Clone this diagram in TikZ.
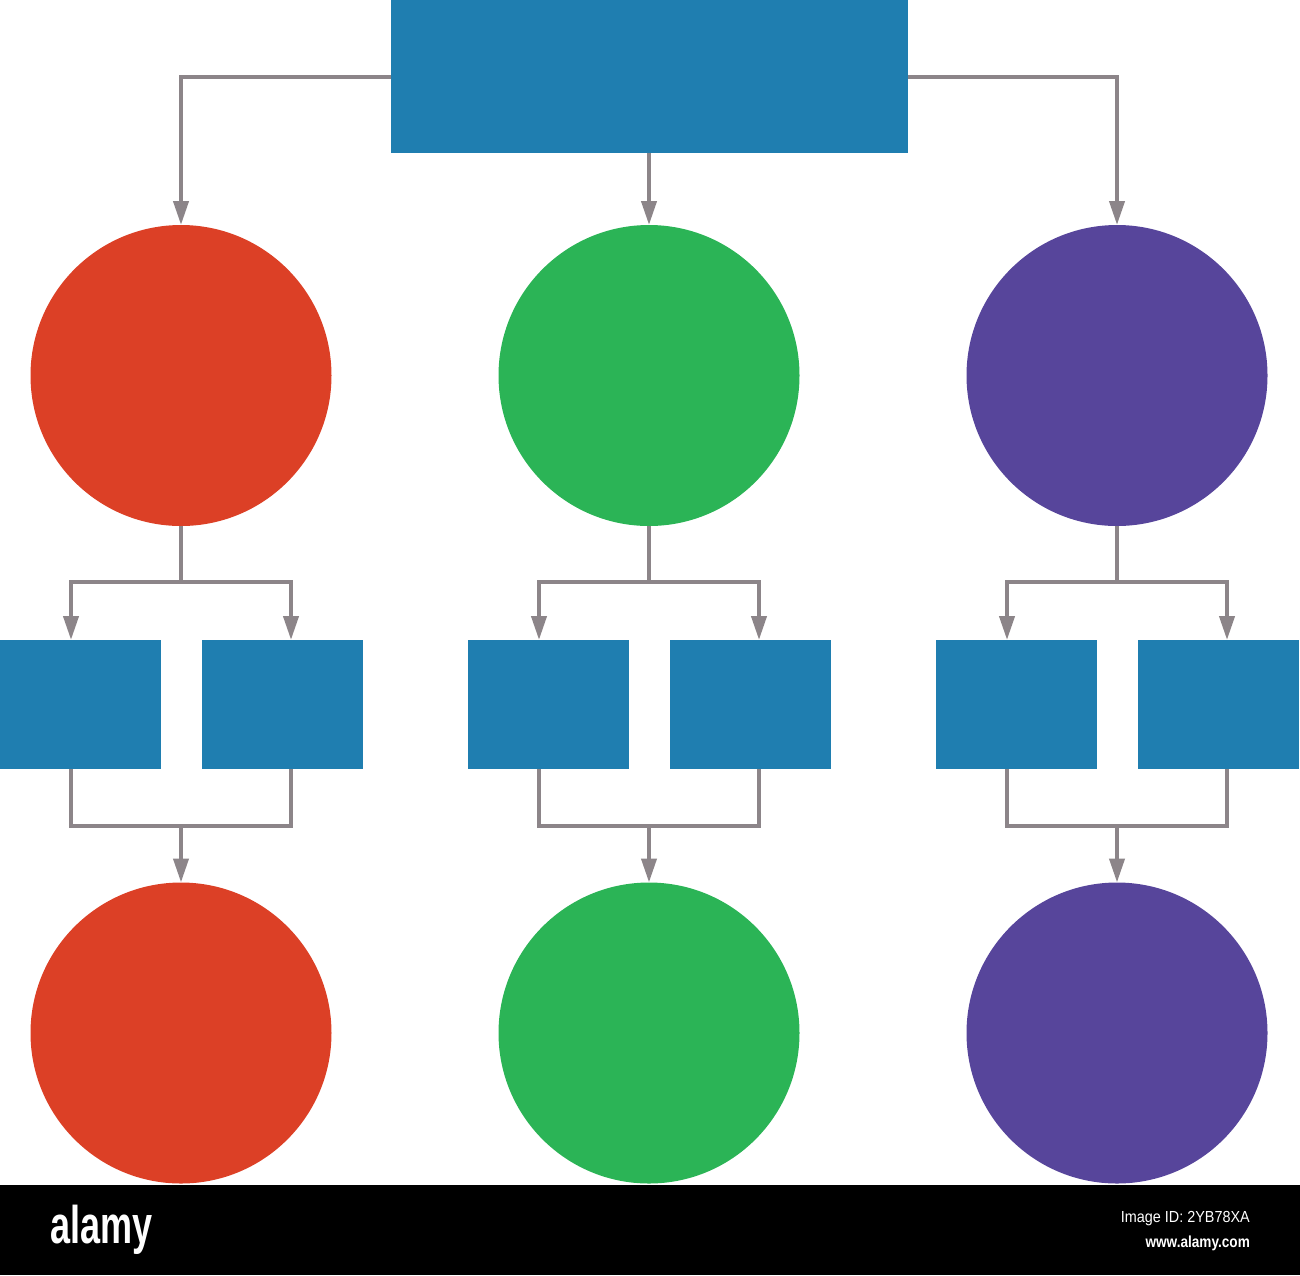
\documentclass[tikz,border=0pt]{standalone}
\usepackage{fontspec}
\setmainfont{Liberation Sans}
\usetikzlibrary{arrows.meta}
\definecolor{boxblue}{HTML}{1F7EB0}
\definecolor{discred}{HTML}{DC4026}
\definecolor{discgreen}{HTML}{2BB456}
\definecolor{discpurple}{HTML}{57459B}
\definecolor{linegray}{HTML}{8C8589}
\begin{document}
\begin{tikzpicture}[x=1pt,y=-1pt,
  conn/.style={draw=linegray, line width=4pt, -{Triangle[length=24pt,width=15pt]}},
  plainline/.style={draw=linegray, line width=4pt},
  bigbox/.style={rectangle, fill=boxblue, inner sep=0pt, outer sep=0pt, minimum width=517pt, minimum height=153pt},
  smallbox/.style={rectangle, fill=boxblue, inner sep=0pt, outer sep=0pt, minimum width=161pt, minimum height=129pt},
  disc/.style={circle, inner sep=0pt, outer sep=0pt, minimum size=301pt}]
\useasboundingbox (0,0) rectangle (1300,1275);
\node[bigbox] (top) at (649.5,76.5) {};
\foreach \cx/\i/\col in {181/1/discred, 649/2/discgreen, 1117/3/discpurple}{
  \node[disc, fill=\col] (u\i) at (\cx,375.5) {};
  \node[disc, fill=\col] (d\i) at (\cx,1033) {};
  \node[smallbox] (l\i) at (\cx-101,704.5) {};
  \node[smallbox] (r\i) at (\cx+101,704.5) {};
  \coordinate (s\i) at (\cx,582);
  \coordinate (m\i) at (\cx,826);
  \draw[plainline] (u\i.south) -- (s\i);
  \draw[conn] (s\i) -| ([xshift=-9pt]l\i.north);
  \draw[conn] (s\i) -| ([xshift=9pt]r\i.north);
  \draw[plainline] ([xshift=-9pt]l\i.south) |- (m\i) -| ([xshift=9pt]r\i.south);
  \draw[conn] (m\i) -- (d\i.north);
}
\draw[conn] (top.west) -| (u1.north);
\draw[conn] (u2.north |- top.south) -- (u2.north);
\draw[conn] (top.east) -| (u3.north);
% bottom bar
\fill[black] (0,1185) rectangle (1300,1275) coordinate (barend);
\node[anchor=base west, text=white, font=\bfseries\fontsize{53}{53}\selectfont, xscale=0.68, inner sep=0pt] (brand) at (50,1243) {alamy};
\node[anchor=base east, text=white, font=\fontsize{16}{16}\selectfont, xscale=0.9, inner sep=0pt] (imgid) at (1250,1222) {Image ID: 2YB78XA};
\node[anchor=base east, text=white, font=\bfseries\fontsize{16}{16}\selectfont, xscale=0.85, inner sep=0pt] (site) at (1250,1247) {www.alamy.com};
\end{tikzpicture}
\end{document}
